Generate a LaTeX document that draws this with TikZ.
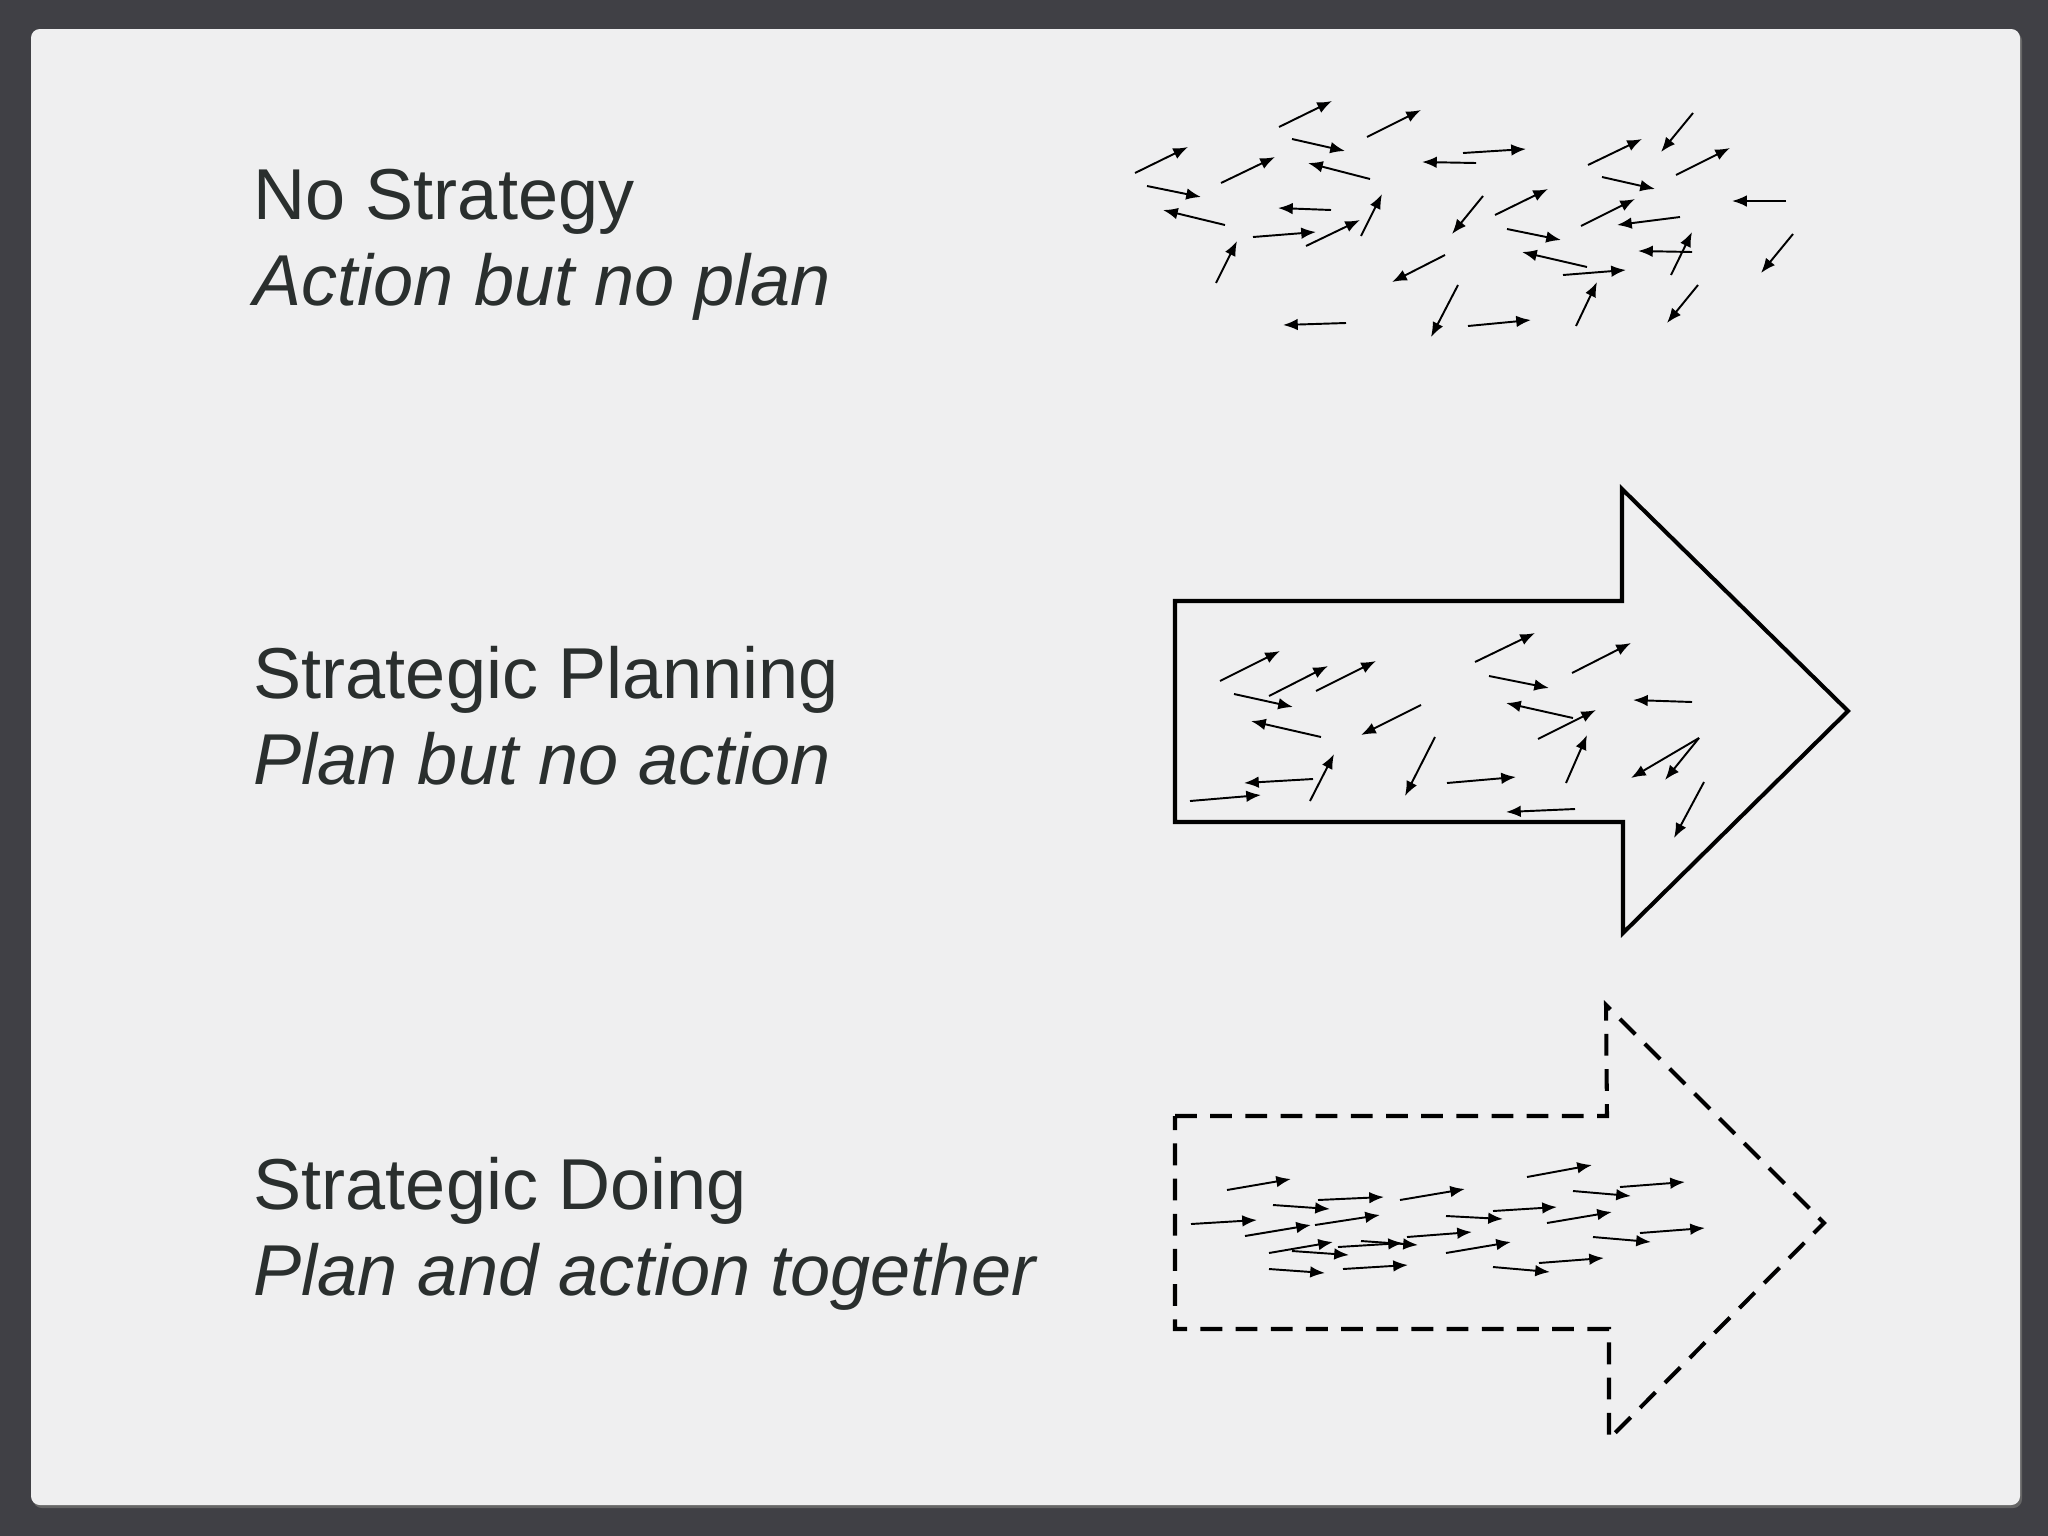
\documentclass[tikz,border=0pt]{standalone}
\usepackage{fontspec}
\setmainfont{Liberation Sans}
\usetikzlibrary{arrows.meta}
\definecolor{slate}{HTML}{404045}
\definecolor{paper}{HTML}{EFEFF0}
\definecolor{ink}{HTML}{2A2F2E}
\tikzset{
  vec/.style={line width=.55pt,black,-{Latex[length=4.2pt,width=3.3pt]}},
  label/.style={anchor=base west,inner sep=0pt,text=ink,font=\fontsize{20.5}{24}\selectfont},
  outline/.style={line width=1.15pt,black,line join=miter}
}
\begin{document}
\begin{tikzpicture}[x=0.01cm,y=-0.01cm]
  \useasboundingbox (0,0) rectangle (2048,1536);
  \fill[slate] (0,0) rectangle (2048,1536);
  \fill[black!60,rounded corners=2.5pt] (33,32) rectangle (2022,1508);
  \fill[paper,rounded corners=2.5pt] (31,29) rectangle (2020,1505);

  % captions
  \node[label] (nostrat) at (253,219) {No Strategy};
  \node[label] (nostratsub) at (253,305) {\itshape Action but no plan};
  \node[label] (planning) at (253,698) {Strategic Planning};
  \node[label] (planningsub) at (253,784) {\itshape Plan but no action};
  \node[label] (doing) at (253,1209) {Strategic Doing};
  \node[label] (doingsub) at (253,1295) {\itshape Plan and action together};

  % no strategy: scattered moves
  \foreach \a/\b/\c/\d in {1279/127/1332/101,1367/137/1421/110,1292/139/1345/151,1135/173/1188/147,
      1221/183/1275/157,1370/179/1308/163,1463/153/1526/149,1476/163/1422/162,1147/186/1201/197,
      1225/225/1163/210,1331/210/1278/208,1253/237/1316/232,1306/246/1360/220,1361/236/1382/194,
      1216/283/1237/241,1483/196/1452/234,1495/215/1548/189,1507/229/1561/240,1445/255/1392/282,
      1458/285/1431/337,1346/323/1283/325,1468/326/1531/320,1587/267/1522/252,1563/275/1626/270,
      1576/326/1597/282,1588/165/1642/139,1693/113/1661/152,1602/177/1655/189,1676/175/1730/148,
      1581/226/1635/199,1680/217/1617/225,1786/201/1732/201,1692/252/1638/251,1671/275/1692/232,
      1793/234/1761/273,1698/285/1667/323}
    \draw[vec] (\a,\b) -- (\c,\d);

  % strategic planning: solid arrow
  \draw[outline] (1175,601) coordinate (pa) -- (1622,601) -- (1622,489) -- (1848,711) coordinate (ptip)
      -- (1623,933) -- (1623,822) -- (1175,822) -- cycle;
  \foreach \a/\b/\c/\d in {1220/681/1280/651,1269/696/1328/666,1316/691/1376/661,1234/694/1293/707,
      1321/737/1251/721,1421/705/1361/735,1435/737/1405/796,1310/801/1334/754,1313/779/1244/783,
      1190/801/1261/795,1447/783/1516/777,1475/662/1535/633,1489/676/1549/688,1573/718/1506/703,
      1538/739/1596/710,1572/673/1631/643,1692/702/1633/700,1566/783/1587/735,1575/809/1506/812,
      1699/738/1631/778,1699/738/1665/780,1704/782/1674/838}
    \draw[vec] (\a,\b) -- (\c,\d);

  % strategic doing: dashed arrow
  \draw[outline,dash pattern=on 6.2pt off 3.8pt] (1175,1116) coordinate (da) -- (1607,1116) -- (1606,1005)
      -- (1824,1223) coordinate (dtip) -- (1609,1439) -- (1609,1329) -- (1175,1329) -- cycle;
  \foreach \a/\b/\c/\d in {1227/1190/1291/1179,1273/1205/1330/1209,1318/1200/1384/1197,1400/1200/1465/1189,
      1191/1224/1257/1220,1245/1236/1311/1225,1315/1225/1380/1215,1269/1253/1333/1242,1292/1251/1349/1255,
      1338/1247/1403/1243,1361/1241/1418/1245,1407/1237/1472/1232,1269/1269/1325/1273,1343/1269/1408/1265,
      1446/1216/1503/1219,1493/1211/1557/1207,1446/1253/1511/1242,1493/1267/1550/1272,1539/1263/1604/1258,
      1527/1177/1592/1165,1573/1191/1631/1196,1620/1187/1685/1182,1547/1223/1612/1212,1593/1237/1651/1242,
      1640/1233/1705/1228}
    \draw[vec] (\a,\b) -- (\c,\d);
\end{tikzpicture}
\end{document}
